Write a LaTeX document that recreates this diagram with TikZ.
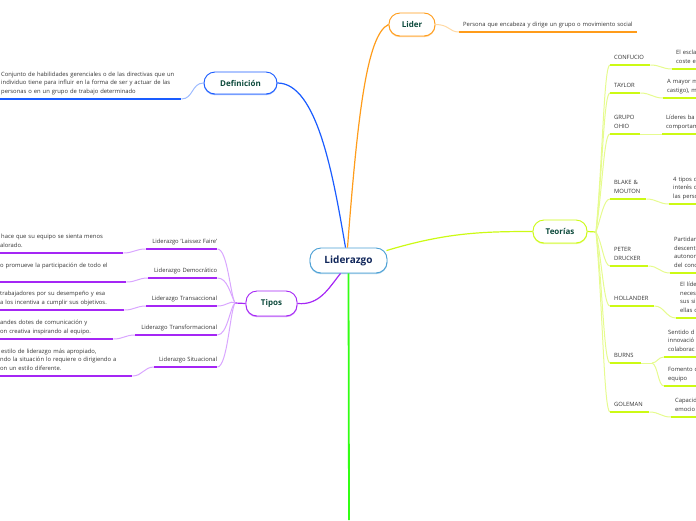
\documentclass[tikz,border=0pt]{standalone}
\usepackage{fontspec}
\setmainfont{Open Sans}
\usetikzlibrary{shadows}

\definecolor{textgray}{HTML}{333333}
\definecolor{titlegreen}{HTML}{0D4A3C}
\definecolor{titlenavy}{HTML}{10265A}
\definecolor{rootblue}{HTML}{4A9FD4}
\definecolor{defblue}{HTML}{1A5CFF}
\definecolor{defblueL}{HTML}{9DBBFF}
\definecolor{liderorange}{HTML}{FF9C1A}
\definecolor{liderorangeL}{HTML}{FFD9A3}
\definecolor{tipospurple}{HTML}{A526F5}
\definecolor{tipospurpleL}{HTML}{D9A6FF}
\definecolor{teoyellow}{HTML}{CCFA14}
\definecolor{teoyellowL}{HTML}{E6FB8F}
\definecolor{rootgreen}{HTML}{33FF14}

\tikzset{
  mainbox/.style={draw=#1, line width=0.9pt, fill=white, rounded corners=11pt, font=\fontsize{8}{10}\selectfont\bfseries, text=titlegreen,
    copy shadow={shadow xshift=0pt, shadow yshift=-0.7pt, draw=#1!50, fill=#1!50}},
  leaf/.style={anchor=south west, align=left, inner ysep=2.6pt, inner xsep=0pt, font=\fontsize{5.85}{8.7}\selectfont, text=textgray, execute at end node=\strut},
  rtext/.style={leaf, align=right, text width=#1-6pt},
  rtl/.style={leaf, text width=#1},
  bough/.style={line width=1.2pt},
  twig/.style={line width=1pt},
  rule/.style={line width=1.4pt}
}

\begin{document}
\begin{tikzpicture}[x=1pt, y=-1pt]

\useasboundingbox (0,0) rectangle (696,520);
\clip (0,0) rectangle (696,520);

\coordinate (greenend) at (349,520);
\coordinate (tiposhub) at (235,303);
\coordinate (teohub) at (596,232);
\coordinate (burnshub) at (652,363);

\node[mainbox=rootblue, minimum width=77pt, minimum height=25pt, text=titlenavy, font=\fontsize{10}{12}\selectfont\bfseries] (lider) at (348.5,260.5) {Liderazgo};
\node[mainbox=defblue, minimum width=73pt, minimum height=22pt] (definicion) at (240.5,83) {Definición};
\node[mainbox=liderorange, minimum width=46pt, minimum height=23pt] (persona) at (412,24.5) {Lider};
\node[mainbox=teoyellow, minimum width=54pt, minimum height=23pt] (teorias) at (560,231.5) {Teorías};
\node[mainbox=tipospurple, minimum width=51pt, minimum height=25pt] (tipos) at (271.5,303.5) {Tipos};

\node[leaf, text width=180pt] (definiciontxt) at (1,99) {Conjunto de habilidades gerenciales o de las directivas que un\\individuo tiene para influir en la forma de ser y actuar de las\\personas o en un grupo de trabajo determinado};
\node[leaf, text width=178pt] (personatxt) at (459,32) {\hspace*{4pt}Persona que encabeza y dirige un grupo o movimiento social};

\node[rtext=77.5pt] (laissez) at (145.5,249) {Liderazgo 'Laissez Faire'};
\node[rtext=75pt] (democratico) at (148,278) {Liderazgo Democrático};
\node[rtext=77pt] (transaccional) at (146,306) {Liderazgo Transaccional};
\node[rtext=88pt] (transformacional) at (135,335) {Liderazgo Transformacional};
\node[rtext=69pt] (situacional) at (154,367) {Liderazgo Situacional};

\node[rtl=123pt] (laissezt) at (0,253) {\hspace*{1pt}hace que su equipo se sienta menos\\alorado.};
\node[rtl=126pt] (democraticot) at (0,282) {o promueve la participación de todo el\\};
\node[rtl=124pt] (transaccionalt) at (0,310) {trabajadores por su desempeño y esa\\a los incentiva a cumplir sus objetivos.};
\node[rtl=113pt] (transformacionalt) at (0,339) {andes dotes de comunicación y\\on creativa inspirando al equipo.};
\node[rtl=132pt] (situacionalt) at (0,376) {\hspace*{1pt}estilo de liderazgo más apropiado,\\ndo la situación lo requiere o dirigiendo a\\on un estilo diferente.};

\node[rtl=40pt] (confucio) at (610,65) {\hspace*{4pt}CONFUCIO};
\node[rtl=30pt] (taylor) at (610,93) {\hspace*{4pt}TAYLOR};
\node[rtl=30pt] (ohio) at (610,134) {\hspace*{4pt}GRUPO\\\hspace*{4pt}OHIO};
\node[rtl=36pt] (blake) at (610,199) {\hspace*{4pt}BLAKE \&\\\hspace*{4pt}MOUTON};
\node[rtl=38pt] (drucker) at (610,266) {\hspace*{4pt}PETER\\\hspace*{4pt}DRUCKER};
\node[rtl=44pt] (hollander) at (610,306) {\hspace*{4pt}HOLLANDER};
\node[rtl=31pt] (burns) at (610,363) {\hspace*{4pt}BURNS};
\node[rtl=39pt] (goleman) at (610,412) {\hspace*{4pt}GOLEMAN};

\node[rtl=50pt] (confuciot) at (672,69) {\hspace*{4pt}El escla\\\hspace*{4pt}coste e};
\node[rtl=50pt] (taylort) at (663,98) {\hspace*{4pt}A mayor m\\\hspace*{4pt}castigo), m};
\node[rtl=50pt] (ohiot) at (662,134) {\hspace*{4pt}Líderes ba\\\hspace*{4pt}comportam};
\node[rtl=50pt] (blaket) at (669,204) {\hspace*{4pt}4 tipos d\\\hspace*{4pt}interés c\\\hspace*{4pt}las perso};
\node[rtl=50pt] (druckert) at (670,273) {\hspace*{4pt}Partidar\\\hspace*{4pt}descent\\\hspace*{4pt}autonor\\\hspace*{4pt}del conc};
\node[rtl=50pt] (hollandert) at (676,318) {\hspace*{4pt}El líde\\\hspace*{4pt}neces\\\hspace*{4pt}sus si\\\hspace*{4pt}ellas c};
\node[rtl=50pt] (burnsa) at (664,357) {\hspace*{4pt}Sentido d\\\hspace*{4pt}innovació\\\hspace*{4pt}colaborac};
\node[rtl=50pt] (burnsb) at (664,386) {\hspace*{4pt}Fomento d\\\hspace*{4pt}equipo};
\node[rtl=50pt] (golemant) at (671,417) {\hspace*{4pt}Capacid\\\hspace*{4pt}emocio};

\draw[rootgreen, line width=1.8pt] (lider.south) -- (greenend);
\draw[defblue, bough] (lider.north) ++(-3,0) .. controls +(-12,-70) and +(40,0) .. (definicion.east);
\draw[liderorange, bough] (lider.north) ++(-1,0) .. controls +(10,-130) and +(-22,10) .. (persona.west);
\draw[teoyellow, bough] (lider.north east) ++(-1,3) .. controls +(60,-18) and +(-50,0) .. (teorias.west);
\draw[tipospurple, bough] (lider.south) ++(-8,0) .. controls +(-12,15) and +(22,2) .. (tipos.east);

\draw[defblueL, twig] (definiciontxt.south east) .. controls +(12,0) and +(-12,0) .. (definicion.west);
\draw[liderorangeL, twig] (persona.east) .. controls +(14,0) and +(-10,0) .. (personatxt.south west);

\draw[tipospurple, bough] (tipos.west) -- (tiposhub);
\foreach \n/\hy in {laissez/-10,democratico/-10,transaccional/-3,transformacional/4,situacional/8}
  \draw[tipospurpleL, twig] (tiposhub) .. controls +(-5,\hy) and +(10,0) .. (\n.south east);
\foreach \a/\b in {laissezt/laissez,democraticot/democratico,transaccionalt/transaccional,transformacionalt/transformacional,situacionalt/situacional}
  \draw[tipospurpleL, twig] (\a.south east) .. controls +(10,0) and +(-10,0) .. (\b.south west);
\foreach \n in {laissez,democratico,transaccional,transformacional,situacional,laissezt,democraticot,transaccionalt,transformacionalt,situacionalt}
  \draw[tipospurple, rule] (\n.south west) -- (\n.south east);

\draw[teoyellow, bough] (teorias.east) -- (teohub);
\draw[teoyellowL, twig] (teohub) .. controls +(7,-80) and +(-6,0) .. (confucio.south west);
\draw[teoyellowL, twig] (teohub) .. controls +(7,-70) and +(-6,0) .. (taylor.south west);
\draw[teoyellowL, twig] (teohub) .. controls +(7,-50) and +(-6,0) .. (ohio.south west);
\draw[teoyellowL, twig] (teohub) .. controls +(5,-15) and +(-6,0) .. (blake.south west);
\draw[teoyellowL, twig] (teohub) .. controls +(6,10) and +(-6,0) .. (drucker.south west);
\draw[teoyellowL, twig] (teohub) .. controls +(6,30) and +(-6,0) .. (hollander.south west);
\draw[teoyellowL, twig] (teohub) .. controls +(7,60) and +(-6,0) .. (burns.south west);
\draw[teoyellowL, twig] (teohub) .. controls +(7,80) and +(-6,0) .. (goleman.south west);
\foreach \a/\b in {confucio/confuciot,taylor/taylort,ohio/ohiot,blake/blaket,drucker/druckert,hollander/hollandert,goleman/golemant}
  \draw[teoyellowL, twig] (\a.south east) .. controls +(10,0) and +(-10,0) .. (\b.south west);
\draw[teoyellowL, twig] (burns.south east) -- (burnshub);
\draw[teoyellowL, twig] (burnshub) .. controls +(5,0) and +(-6,0) .. (burnsa.south west);
\draw[teoyellowL, twig] (burnshub) .. controls +(6,2) and +(-6,0) .. (burnsb.south west);
\foreach \n in {confucio,taylor,ohio,blake,drucker,hollander,burns,goleman,confuciot,taylort,ohiot,blaket,druckert,hollandert,burnsa,burnsb,golemant}
  \draw[teoyellow, rule] (\n.south west) -- (\n.south east);

\draw[defblue, rule] (0,99) -- (definiciontxt.south east);
\draw[liderorange, rule] (personatxt.south west) -- (personatxt.south east);

\end{tikzpicture}
\end{document}
